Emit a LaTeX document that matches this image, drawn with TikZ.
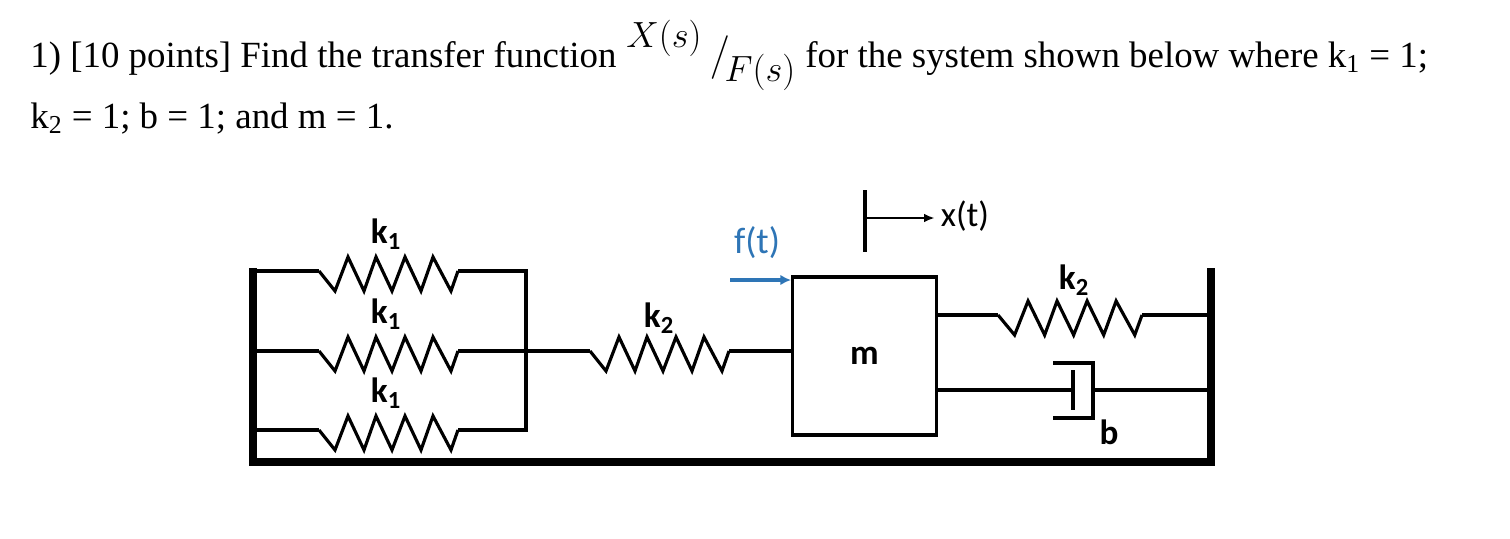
\documentclass[tikz,border=0pt]{standalone}
\usepackage{fontspec}
\usetikzlibrary{arrows.meta}
\setmainfont{Liberation Serif}
\newfontfamily\diag{Carlito}
\definecolor{fblue}{HTML}{2E75B6}
\begin{document}
\begin{tikzpicture}[x=0.02cm,y=-0.02cm,
  ln/.style={line width=1.8pt},
  wall/.style={line width=4.6pt},
  lab/.style={font=\diag\fontsize{20}{24}\selectfont\bfseries},
  hdr/.style={font=\fontsize{21}{25}\selectfont,anchor=base west,inner sep=0},
  spring/.pic={\draw[ln,line join=miter] (0,0)--(16,20)--(29,-14)--(45,20)--(57,-14)--(73,20)--(86,-14)--(102,20)--(114,-14)--(132,20)--(139,0);}]
\useasboundingbox (0,0) rectangle (1510,538);
% header
\node[hdr] (t1) at (30,67) {1) [10 points] Find the transfer function};
\node[inner sep=0,font=\fontsize{21}{25}\selectfont] (fx) at (664,38) {$X(s)$};
\node[inner sep=0,font=\fontsize{34}{38}\selectfont] (fs) at (720,58) {$/$};
\node[inner sep=0,font=\fontsize{21}{25}\selectfont] (ff) at (760,72) {$F(s)$};
\node[hdr] (t2) at (805,67) {for the system shown below where k\textsubscript{1} = 1;};
\node[hdr] (t3) at (30,128) {k\textsubscript{2} = 1; b = 1; and m = 1.};
% walls
\draw[wall] (253,268) -- (253,462) -- (1211,462) -- (1211,268);
% parallel springs
\foreach \y/\n in {271/a,351/b,430/c}{
  \draw[ln] (253,\y) -- (319,\y);
  \pic at (319,\y) {spring};
  \draw[ln] (458,\y) -- (526,\y);
  \node[lab] at (386,\y-37) {k\textsubscript{1}};
}
\draw[ln] (526,269) -- (526,432);
% k2 middle
\draw[ln] (526,351) -- (590,351);
\pic at (590,351) {spring};
\node[lab] at (659,318) {k\textsubscript{2}};
% mass
\node[ln,draw,minimum width=144*0.02cm,minimum height=158*0.02cm,inner sep=0,lab] (m) at (864.5,356) {m};
\draw[ln] (729,351) -- (m.west|-0,351);
% f(t)
\node[font=\diag\fontsize{21}{24}\selectfont,text=fblue] (f) at (757,243) {f(t)};
\draw[line width=1.8pt,color=fblue,-{Latex[length=6pt,width=6pt]}] (730,280) -- (m.west|-0,280);
% x(t)
\draw[ln] (865,190) -- (865,252);
\node[font=\diag\fontsize{20}{24}\selectfont] (x) at (965,216) {x(t)};
\draw[line width=1.4pt,-{Latex[length=6pt,width=5pt]}] (865,218) -- (x.west|-0,218);
% right spring
\draw[ln] (m.east|-0,315) -- (998,315);
\pic[xscale=1.036] at (998,315) {spring};
\draw[ln] (1142,315) -- (1208,315);
\node[lab] at (1074,280) {k\textsubscript{2}};
% dashpot
\draw[ln] (m.east|-0,390) -- (1073,390);
\draw[ln] (1073,370) -- (1073,410);
\draw[ln] (1053,363) -- (1093,363) -- (1093,418) -- (1053,418);
\draw[ln] (1093,390) -- (1208,390);
\node[lab] at (1109,432) {b};
\end{tikzpicture}
\end{document}
